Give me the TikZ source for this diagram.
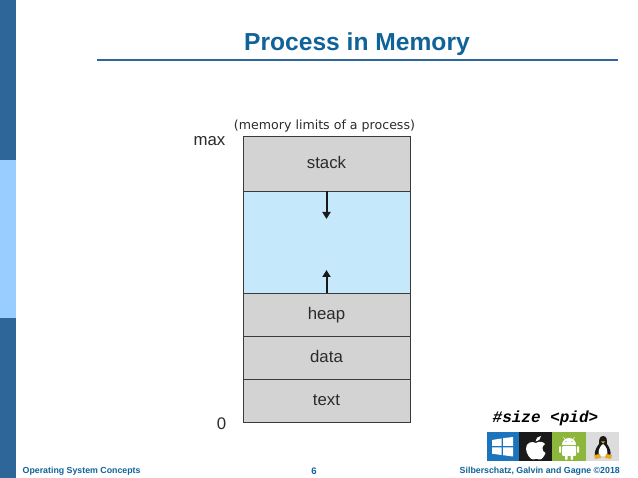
\documentclass[tikz,border=0pt]{standalone}
\usepackage{fontspec}
\setmainfont{Liberation Sans}
\newfontfamily\dejavu{DejaVu Sans}
\newfontfamily\lmono{Liberation Mono}
\usetikzlibrary{arrows.meta}
\definecolor{bardark}{HTML}{2F6699}
\definecolor{barlight}{HTML}{99CCFF}
\definecolor{titleblue}{HTML}{0F6399}
\definecolor{seggray}{HTML}{D3D3D3}
\definecolor{segblue}{HTML}{C5E8FA}
\definecolor{seged}{HTML}{3A3A3A}
\definecolor{labelc}{HTML}{2B2B2B}
\definecolor{winblue}{HTML}{1C75BC}
\definecolor{appleblack}{HTML}{1A1A1A}
\definecolor{androidgreen}{HTML}{8DB63C}
\definecolor{linuxgray}{HTML}{DCDCDC}
\definecolor{tuxbeak}{HTML}{E8A820}
\tikzset{
  x=1pt,y=-1pt,
  segment/.style={draw=seged,line width=0.8pt,fill=seggray,minimum width=167pt,inner sep=0pt,outer sep=0pt,anchor=north west,font=\fontsize{16.8}{18}\selectfont,text=labelc,text height=12pt,text depth=1pt},
  side/.style={font=\fontsize{16.8}{18}\selectfont,text=labelc,inner sep=0pt},
  growarrow/.style={line width=2pt,draw=black!90,-{Triangle[length=7pt,width=8pt]}},
  foot/.style={font=\bfseries\fontsize{8.8}{11}\selectfont,text=titleblue,inner sep=0pt},
}
\begin{document}
\begin{tikzpicture}
\useasboundingbox (0,0) rectangle (638,478);
\fill[white] (0,0) rectangle (638,478);
% side bar
\fill[bardark] (0,0) rectangle (16,160);
\fill[barlight] (0,160) rectangle (16,318);
\fill[bardark] (0,318) rectangle (16,478);
% title
\node[font=\bfseries\fontsize{24.6}{28}\selectfont,text=titleblue,inner sep=0pt] (title) at (357,44) {Process in Memory};
\draw[bardark,line width=2pt] (97,60.5) -- (618,60.5);
% memory
\node[segment,minimum height=55pt] (stack) at (243,136) {stack};
\node[segment,minimum height=102pt,fill=segblue] (free) at (243,191) {};
\node[segment,minimum height=43pt] (heap) at (243,293) {heap};
\node[segment,minimum height=43pt] (data) at (243,336) {data};
\node[segment,minimum height=43pt] (text) at (243,379) {text};
\coordinate (downend) at (326.5,219);
\coordinate (upend) at (326.5,270);
\draw[growarrow] (free.north -| downend) -- (downend);
\draw[growarrow] (free.south -| upend) -- (upend);
\node[side,font=\dejavu\fontsize{12.6}{15}\selectfont] (limits) at (324.5,126.5) {(memory limits of a process)};
\node[side] (max) at (209.5,141) {max};
\node[side] (zero) at (221.5,423.5) {0};
% command
\node[font=\lmono\bfseries\itshape\fontsize{16}{18}\selectfont,text=black,inner sep=0pt] (cmd) at (545.5,418) {\#size <pid>};
% icons
\fill[winblue] (487,432) rectangle (519,461);
\fill[appleblack] (519,432) rectangle (552,461);
\fill[androidgreen] (552,432) rectangle (586,461);
\fill[linuxgray] (586,432) rectangle (619,461);
% windows logo
\fill[white] (492,440) -- (501.5,438.5) -- (501.5,446) -- (492,446) -- cycle;
\fill[white] (503,438.2) -- (513,437) -- (513,446) -- (503,446) -- cycle;
\fill[white] (492,447.5) -- (501.5,447.5) -- (501.5,455) -- (492,453.7) -- cycle;
\fill[white] (503,447.5) -- (513,447.5) -- (513,456.5) -- (503,455.2) -- cycle;
% apple logo
\fill[white] (536,443) .. controls (539,441) and (543,441.5) .. (545,444) .. controls (541.5,446) and (541.5,451) .. (545.5,453) .. controls (544,457) and (541.5,460) .. (539,459.5) .. controls (537,458.5) and (535.5,458.5) .. (533.5,459.5) .. controls (530,460) and (526,453) .. (526,448.5) .. controls (526,443) and (531.5,440.5) .. (536,443) -- cycle;
\fill[white] (535.5,441.5) .. controls (535.5,438.5) and (538,436) .. (541,436) .. controls (541,439) and (538.5,441.5) .. (535.5,441.5) -- cycle;
% android logo
\fill[white] (562,445) .. controls (562,441) and (565,438) .. (569,438) .. controls (573,438) and (576,441) .. (576,445) -- cycle;
\fill[white,rounded corners=1pt] (562,446) rectangle (576,456);
\fill[white,rounded corners=1pt] (559,446) rectangle (561,453);
\fill[white,rounded corners=1pt] (577,446) rectangle (579,453);
\fill[white,rounded corners=1pt] (565,455) rectangle (567.5,460);
\fill[white,rounded corners=1pt] (570.5,455) rectangle (573,460);
\draw[white,line width=0.5pt] (565,439.5) -- (563.5,437) (573,439.5) -- (574.5,437);
\fill[androidgreen] (566,441.5) circle[radius=0.7] (572,441.5) circle[radius=0.7];
% penguin logo
\fill[appleblack] (603,436) .. controls (599,436) and (599,441) .. (599,444) .. controls (596,448) and (594,452) .. (595,456) -- (610,456) .. controls (612,452) and (609,447) .. (607,444) .. controls (607,440) and (607,436) .. (603,436) -- cycle;
\fill[white] (603,444) .. controls (599,447) and (598,451) .. (599,456) -- (607,456) .. controls (608,451) and (607,447) .. (603,444) -- cycle;
\fill[tuxbeak] (601,441.5) -- (605,441.5) -- (603,443.5) -- cycle;
\fill[tuxbeak] (594,455) -- (600,454) -- (601,458) -- (595,459) -- cycle;
\fill[tuxbeak] (606,454) -- (612,455) -- (611,459) -- (605,458) -- cycle;
% footer
\node[foot,anchor=west] (fl) at (22.5,471) {Operating System Concepts};
\node[foot,font=\bfseries\fontsize{9.5}{11}\selectfont] (fc) at (314,471) {6};
\node[foot,anchor=east] (fr) at (620,471) {Silberschatz, Galvin and Gagne ©2018};
\end{tikzpicture}
\end{document}
